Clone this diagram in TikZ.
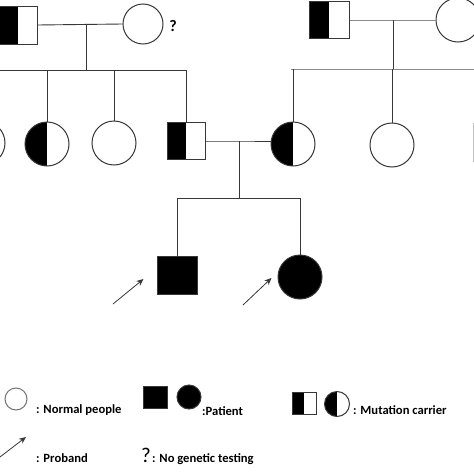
\documentclass[tikz,border=0pt]{standalone}
\usepackage{fontspec}
\setsansfont{Carlito}
\usepackage{xcolor}
\definecolor{pedline}{RGB}{55,55,55}
\usetikzlibrary{arrows.meta,positioning,calc}

\begin{document}
\begin{tikzpicture}[x=1pt,y=-1pt,font=\sffamily\bfseries,
  male/.style={draw=pedline,line width=1pt,rectangle,minimum width=38pt,minimum height=38pt,inner sep=0pt},
  female/.style={draw=pedline,line width=1pt,circle,minimum size=44pt,inner sep=0pt},
  carrier/.style={path picture={\fill[black] (path picture bounding box.south west) rectangle (path picture bounding box.north);}},
  patient/.style={fill=black},
  link/.style={draw=pedline,line width=0.9pt},
  proband/.style={-{Stealth[length=7pt,width=6pt]},line width=0.8pt,pedline},
  lbl/.style={anchor=west,inner sep=0pt,font=\sffamily\bfseries\fontsize{12.6}{14}\selectfont},
  qmark/.style={inner sep=0pt,font=\sffamily\fontsize{21}{24}\selectfont}]
\clip (0,0) rectangle (474,474);
\fill[white] (0,0) rectangle (474,474);

% generation I
\node[male,carrier] (gfa) at (18,25) {};
\node[female,minimum size=40pt] (gma) at (143,24) {};
\node[qmark,font=\sffamily\bfseries\fontsize{16}{18}\selectfont] (qa) at (173,26) {?};
\node[male,carrier,minimum width=40pt,minimum height=37pt] (gfb) at (329,20) {};
\node[female] (gmb) at (458,20) {};

% generation II
\node[female] (c0) at (-17,143) {};
\node[female,carrier] (c1) at (47,144) {};
\node[female] (c2) at (114,143) {};
\node[male,carrier,minimum height=37pt] (c3) at (186,141) {};
\node[female,carrier] (c4) at (293,144) {};
\node[female] (c5) at (392,145) {};
\node[male,draw=black!25] (c6) at (492,142) {};

% generation III
\node[male,patient,minimum width=40pt] (p1) at (177,275) {};
\node[female,patient] (p2) at (300,277) {};

\coordinate (ja) at (86,24);
\coordinate (sa) at (86,70);
\coordinate (sal) at (-30,70);
\coordinate (sar) at (186,70);
\coordinate (jb) at (393,20);
\coordinate (sb) at (393,69);
\coordinate (sbl) at (291,69);
\coordinate (sbr) at (492,69);
\coordinate (jc) at (239,141);
\coordinate (sc) at (239,198);

\draw[link] (gfa.east) -- (gma.west);
\draw[link] (ja) -- (sa);
\draw[link] (sal) -- (sar);
\foreach \k in {c0,c1,c2,c3}
  \draw[link] (\k.north |- sa) -- (\k.north);
\draw[link,draw=black!45] (gfb.east) -- (gmb.west);
\draw[link] (jb) -- (sb);
\draw[link,draw=black!45] (sbl) -- (sbr);
\foreach \k in {c4,c5}
  \draw[link] (\k.north |- sb) -- (\k.north);
\draw[link] (c3.east) -- (jc) -- (c4.west |- jc);
\draw[link] (jc) -- (sc);
\draw[link] (p1.north |- sc) -- (p2.north |- sc);
\draw[link] (p1.north |- sc) -- (p1.north);
\draw[link] (p2.north |- sc) -- (p2.north);

\coordinate (a1) at (113,304);
\coordinate (a2) at (243,305);
\draw[proband] (a1) -- ($(p1.west)+(-13,4)$);
\draw[proband] (a2) -- ($(p2.west)+(-6,1)$);

% legend
\node[female,draw=black!55,minimum size=22pt] (lgn) at (16,399) {};
\node[lbl] (tn) at (36,410) {: Normal people};
\node[male,patient,minimum width=24pt,minimum height=22pt] (lgps) at (155,397) {};
\node[female,patient,minimum size=24pt] (lgpc) at (189,397) {};
\node[lbl] (tp) at (202,411) {:Patient};
\node[male,carrier,minimum width=24pt,minimum height=22pt] (lgcs) at (304,403) {};
\node[female,carrier,minimum size=25pt] (lgcc) at (337,404) {};
\node[lbl] (tc) at (353,410) {: Mutation carrier};
\coordinate (la) at (0,457);
\coordinate (lb) at (26,437);
\draw[proband] (la) -- (lb);
\node[lbl] (tpr) at (36,458) {: Proband};
\node[qmark] (lq) at (146,455) {?};
\node[lbl] (tq) at (152,459) {: No genetic testing};
\end{tikzpicture}
\end{document}
